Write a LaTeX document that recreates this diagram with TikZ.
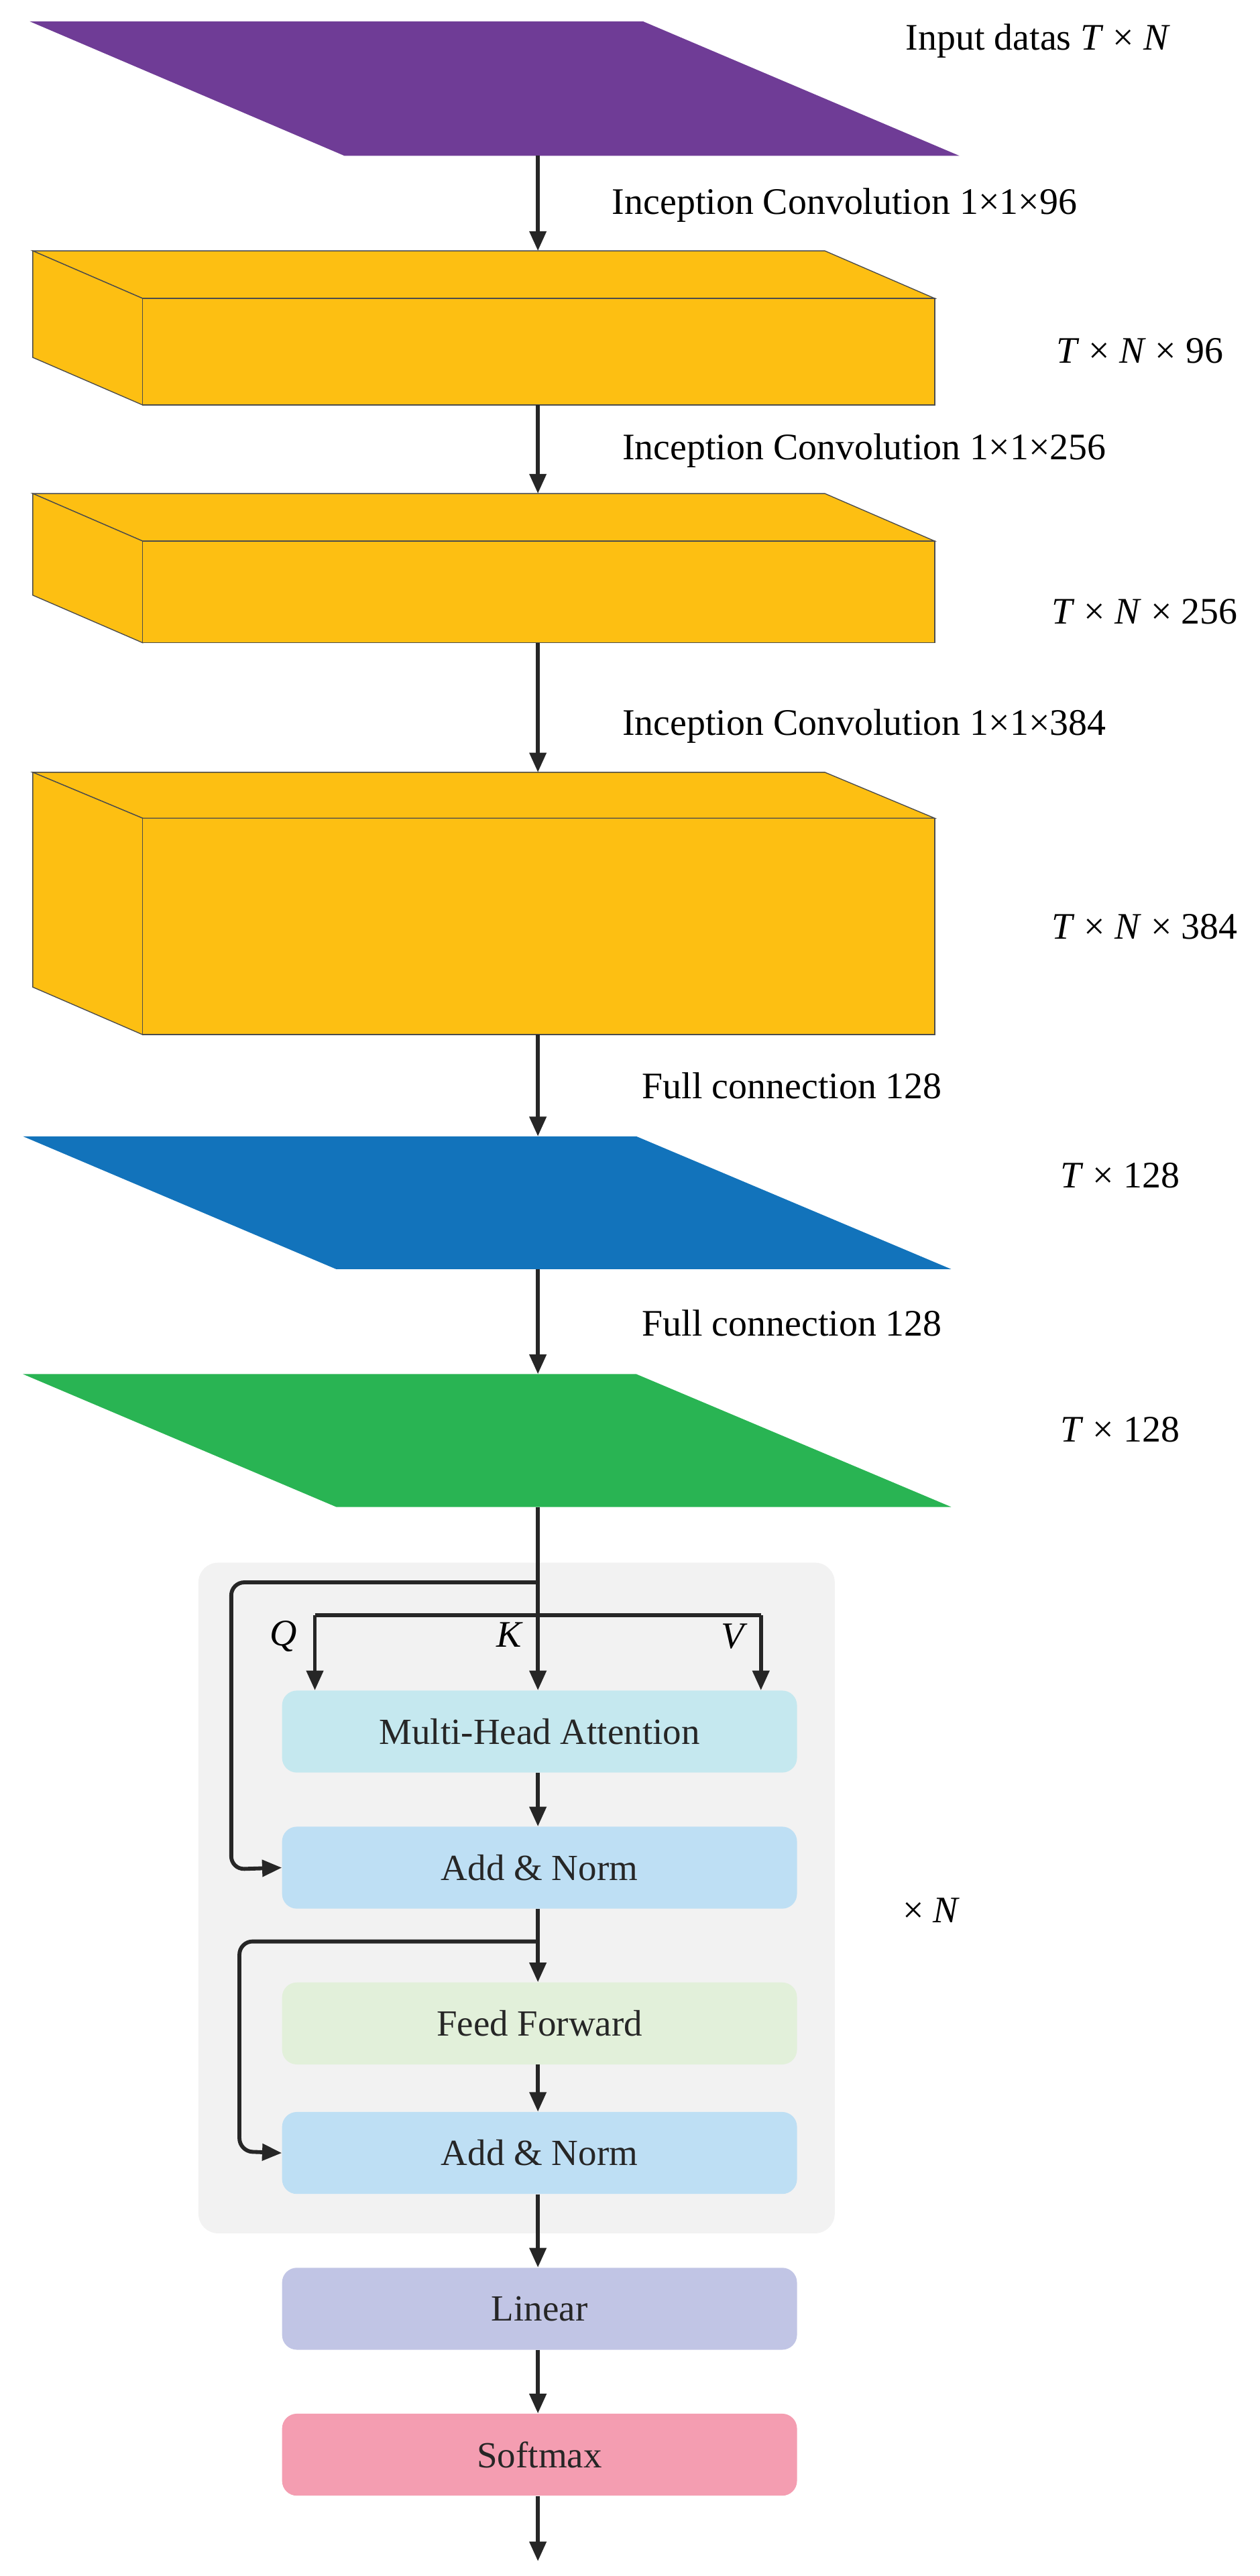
\documentclass[tikz,border=0pt]{standalone}
\usepackage{fontspec}
\setmainfont{Liberation Serif}
\usetikzlibrary{arrows.meta,positioning}
\definecolor{cpurple}{HTML}{6F3C96}
\definecolor{cyel}{HTML}{FDBF12}
\definecolor{cblue}{HTML}{1273BB}
\definecolor{cgreen}{HTML}{29B453}
\definecolor{cpanel}{HTML}{F2F2F2}
\definecolor{cmha}{HTML}{C5E8EF}
\definecolor{cadd}{HTML}{BEDFF4}
\definecolor{cff}{HTML}{E2F0DA}
\definecolor{clin}{HTML}{C1C5E5}
\definecolor{csoft}{HTML}{F49DB1}
\begin{document}
\begin{tikzpicture}[x=0.05cm,y=-0.05cm,
  conn/.style={line width=3.4pt,draw=black!85,-{Triangle[length=0.6cm,width=0.5cm]}},
  plain/.style={line width=3.4pt,draw=black!85},
  lbl/.style={font=\fontsize{32.5}{36}\selectfont,inner sep=0pt},
  blk/.style={rounded corners=0.45cm,minimum width=15.7cm,minimum height=2.5cm,inner sep=0pt,font=\fontsize{32}{36}\selectfont,text=black!85},
  face/.style={fill=cyel,draw=black!70,line width=0.8pt}]
\useasboundingbox (0,0) rectangle (768,1571);
% parallelogram layers
\fill[cpurple] (18,13)--(392,13)--(585,95)--(210,95)--cycle;
\coordinate (p1b) at (328,95);
\fill[cblue] (14,693)--(388,693)--(580,774)--(205,774)--cycle;
\coordinate (p2t) at (328,693); \coordinate (p2b) at (328,774);
\fill[cgreen] (14,838)--(388,838)--(580,919)--(205,919)--cycle;
\coordinate (p3t) at (328,838); \coordinate (p3b) at (328,919);
% boxes
\foreach \t/\f/\b/\n in {153/182/247/1,301/330/392/2,471/499/631/3}{
  \draw[face] (20,\t)--(503,\t)--(570,\f)--(87,\f)--cycle;
  \draw[face] (20,\t)--(87,\f)--(87,\b)--(20,\b-29)--cycle;
  \draw[face] (87,\f) rectangle (570,\b);
  \coordinate (b\n t) at (328,\t);
  \coordinate (b\n b) at (328,\b);
}
\draw[conn] (p1b)--(b1t);
\draw[conn] (b1b)--(b2t);
\draw[conn] (b2b)--(b3t);
\draw[conn] (b3b)--(p2t);
\draw[conn] (p2b)--(p3t);
% labels
\node[lbl] at (633,25) {Input datas \textit{T} × \textit{N}};
\node[lbl] at (515,125) {Inception Convolution 1×1×96};
\node[lbl] at (695,214) {\textit{T} × \textit{N} × 96};
\node[lbl] at (527,275) {Inception Convolution 1×1×256};
\node[lbl] at (698,373) {\textit{T} × \textit{N} × 256};
\node[lbl] at (527,443) {Inception Convolution 1×1×384};
\node[lbl] at (698,565) {\textit{T} × \textit{N} × 384};
\node[lbl] at (483,662) {Full connection 128};
\node[lbl] at (683,717) {\textit{T} × 128};
\node[lbl] at (483,807) {Full connection 128};
\node[lbl] at (683,872) {\textit{T} × 128};
% transformer
\fill[cpanel,rounded corners=0.6cm] (121,953) rectangle (509,1362);
\node[blk,fill=cmha] (mha) at (329,1056) {Multi-Head Attention};
\node[blk,fill=cadd,minimum height=2.5cm] (an1) at (329,1139) {Add \& Norm};
\node[blk,fill=cff] (ff) at (329,1234) {Feed Forward};
\node[blk,fill=cadd] (an2) at (329,1313) {Add \& Norm};
\node[blk,fill=clin] (lin) at (329,1408) {Linear};
\node[blk,fill=csoft] (sm) at (329,1497) {Softmax};
\coordinate (br) at (328,985);
\coordinate (rs1) at (328,965);
\coordinate (rs2) at (328,1184);
\coordinate (out) at (328,1562);
\draw[conn] (p3b)--(mha.north-|p3b);
\draw[plain] (192,985)--(464,985);
\draw[conn] (192,985)--(mha.north-|192,0);
\draw[conn] (464,985)--(mha.north-|464,0);
\draw[conn,rounded corners=0.4cm] (rs1)-|(141,1140)--(an1.west);
\draw[conn] (mha.south-|rs1)--(an1.north-|rs1);
\draw[conn] (an1.south-|rs1)--(ff.north-|rs1);
\draw[conn,rounded corners=0.4cm] (rs2)-|(146,1312)--(an2.west);
\draw[conn] (ff.south-|rs1)--(an2.north-|rs1);
\draw[conn] (an2.south-|rs1)--(lin.north-|rs1);
\draw[conn] (lin.south-|rs1)--(sm.north-|rs1);
\draw[conn] (sm.south-|rs1)--(out);
\node[lbl] at (173,998) {\textit{Q}};
\node[lbl] at (311,997) {\textit{K}};
\node[lbl] at (448,998) {\textit{V}};
\node[lbl] at (568,1165) {× \textit{N}};
\end{tikzpicture}
\end{document}
